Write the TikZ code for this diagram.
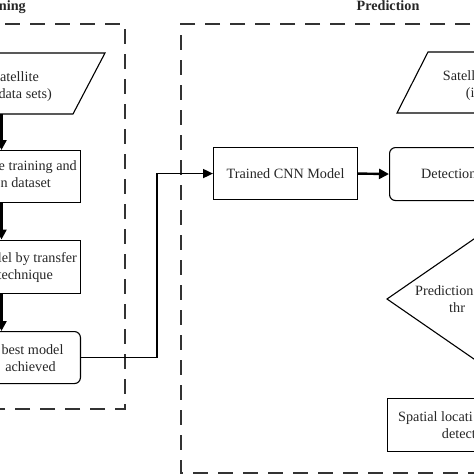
\documentclass[tikz,border=0pt]{standalone}
\usepackage{fontspec}
\setmainfont{Liberation Serif}
\usetikzlibrary{arrows.meta}
\begin{document}
\begin{tikzpicture}[x=1pt,y=-1pt,
  every node/.style={font=\fontsize{14.2}{17}\selectfont, inner sep=0pt, text=black!85},
  box/.style={draw, line width=1.1pt, minimum width=#1, minimum height=52pt},
  rbox/.style={box=#1, rounded corners=6pt},
  shapeline/.style={draw, line width=1.1pt},
  thickarrow/.style={line width=2.4pt, -{Triangle[length=10pt,width=10pt]}},
  conn/.style={line width=1.8pt, -{Triangle[length=10pt,width=9pt]}},
  dashbox/.style={line width=1.3pt, black!80, dash pattern=on 15pt off 10pt},
  title/.style={font=\fontsize{14.2}{17}\selectfont\bfseries}]
\useasboundingbox (0,0) rectangle (474,474);

% panels
\draw[dashbox] (-20,24) -- (125,24) -- (125,409) -- (-20,409);
\draw[dashbox] (620,24) -- (181,24) -- (181,473) -- (620,473);
\node[title, anchor=base east] (ttrain) at (26,10) {ning};
\node[title, anchor=base] (tpred) at (388,10) {Prediction};

% left column
\draw[shapeline] (-40,53) -- (105,53) -- (73,114) -- (-72,114) -- cycle;
\coordinate (inpb) at (1.5,114);
\node[anchor=base east] (tin1) at (39,81) {atellite};
\node[anchor=base east] (tin2) at (52,98) {data sets)};

\node[box=141pt, anchor=north east] (b1) at (81,150) {};
\node[anchor=base east] (tb1a) at (77,170.5) {e training and};
\node[anchor=base east] (tb1b) at (51,187.5) {n dataset};

\node[box=141pt, minimum height=53pt, anchor=north east] (b2) at (81,239.5) {};
\node[anchor=base east] (tb2a) at (77,262.5) {lel by transfer};
\node[anchor=base east] (tb2b) at (53,279.5) {technique};

\node[rbox=98pt, anchor=north east] (b3) at (81,331) {};
\node[anchor=base] (tb3a) at (32.5,354) {best model};
\node[anchor=base] (tb3b) at (30.5,371) {achieved};

\coordinate (ax) at (1.5,0);
\draw[thickarrow] (inpb) -- (b1.north -| ax);
\draw[thickarrow] (b1.south -| ax) -- (b2.north -| ax);
\draw[thickarrow] (b2.south -| ax) -- (b3.north -| ax);

% right part
\node[box=144pt, anchor=north west] (cnn) at (213,147) {Trained CNN Model};
\node[rbox=150pt, minimum height=53pt, anchor=north west] (det) at (389,147) {};
\node[anchor=base west] (tdet) at (421,178) {Detection};

\draw[conn] (b3.east) -- ++(76,0) |- (cnn.west);
\draw[thickarrow] (cnn.east) -- (det.west);

\draw[shapeline] (428,52) -- (560,52) -- (529,113) -- (397,113) -- cycle;
\node[anchor=base west] (tsat1) at (442.7,80) {Satell};
\node[anchor=base west] (tsat2) at (465.7,97) {(i};

\draw[shapeline] (387,299) -- (500,221) -- (613,299) -- (500,377) -- cycle;
\node[anchor=base west] (tpr1) at (415,295) {Prediction};
\node[anchor=base west] (tpr2) at (449,312) {thr};

\node[box=150pt, minimum height=53pt, anchor=north west] (sp) at (387,398) {};
\node[anchor=base west] (tsp1) at (398,421) {Spatial locati};
\node[anchor=base west] (tsp2) at (441.7,438) {detect};
\end{tikzpicture}
\end{document}
